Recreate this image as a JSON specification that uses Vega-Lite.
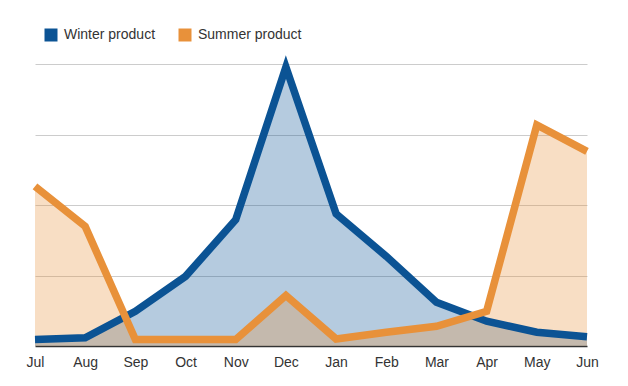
{
  "$schema": "https://vega.github.io/schema/vega-lite/v6.json",
  "width": 552,
  "height": 282,
  "autosize": "none",
  "padding": {"left": 35, "top": 64, "right": 41, "bottom": 40},
  "background": "white",
  "config": {
    "view": {"stroke": null},
    "font": "Liberation Sans"
  },
  "data": {
    "values": [
      {"month": "Jul", "series": "Winter product", "value": 2.3},
      {"month": "Aug", "series": "Winter product", "value": 2.9},
      {"month": "Sep", "series": "Winter product", "value": 12.3},
      {"month": "Oct", "series": "Winter product", "value": 24.7},
      {"month": "Nov", "series": "Winter product", "value": 44.8},
      {"month": "Dec", "series": "Winter product", "value": 98.9},
      {"month": "Jan", "series": "Winter product", "value": 46.9},
      {"month": "Feb", "series": "Winter product", "value": 31.8},
      {"month": "Mar", "series": "Winter product", "value": 15.5},
      {"month": "Apr", "series": "Winter product", "value": 8.8},
      {"month": "May", "series": "Winter product", "value": 4.9},
      {"month": "Jun", "series": "Winter product", "value": 3.3},
      {"month": "Jul", "series": "Summer product", "value": 56.6},
      {"month": "Aug", "series": "Summer product", "value": 42.4},
      {"month": "Sep", "series": "Summer product", "value": 2.3},
      {"month": "Oct", "series": "Summer product", "value": 2.3},
      {"month": "Nov", "series": "Summer product", "value": 2.3},
      {"month": "Dec", "series": "Summer product", "value": 17.9},
      {"month": "Jan", "series": "Summer product", "value": 2.5},
      {"month": "Feb", "series": "Summer product", "value": 4.9},
      {"month": "Mar", "series": "Summer product", "value": 7.0},
      {"month": "Apr", "series": "Summer product", "value": 12.3},
      {"month": "May", "series": "Summer product", "value": 78.4},
      {"month": "Jun", "series": "Summer product", "value": 69.0}
    ]
  },
  "encoding": {
    "x": {
      "field": "month",
      "type": "ordinal",
      "sort": ["Jul","Aug","Sep","Oct","Nov","Dec","Jan","Feb","Mar","Apr","May","Jun"],
      "scale": {"type": "point", "padding": 0},
      "axis": {
        "title": null,
        "labelAngle": 0,
        "ticks": false,
        "domainColor": "#333333",
        "domainWidth": 1.5,
        "labelColor": "#333333",
        "labelFontSize": 14,
        "labelPadding": 9,
        "grid": false
      }
    },
    "y": {
      "field": "value",
      "type": "quantitative",
      "stack": null,
      "scale": {"domain": [0, 100], "nice": false},
      "axis": {
        "title": null,
        "labels": false,
        "ticks": false,
        "domain": false,
        "grid": true,
        "gridColor": "#cccccc",
        "values": [25, 50, 75, 100]
      }
    },
    "color": {
      "field": "series",
      "type": "nominal",
      "scale": {"domain": ["Winter product", "Summer product"], "range": ["#0b5394", "#e8913a"]},
      "legend": {
        "title": null,
        "orient": "none",
        "legendX": 9,
        "legendY": -36,
        "direction": "horizontal",
        "symbolType": "square",
        "symbolSize": 169,
        "symbolOpacity": 1,
        "symbolStrokeWidth": 0,
        "labelFontSize": 14,
        "labelColor": "#333333",
        "labelOffset": 6,
        "columnPadding": 22,
        "encode": {
          "symbols": {"update": {"fill": {"scale": "color", "field": "value"}, "fillOpacity": {"value": 1}, "opacity": {"value": 1}, "strokeWidth": {"value": 0}}}
        }
      }
    }
  },
  "layer": [
    {
      "mark": {"type": "area", "fillOpacity": 0.3, "line": false},
      "encoding": {"order": {"field": "series", "sort": "descending"}}
    },
    {
      "mark": {"type": "line", "strokeWidth": 7.5, "strokeJoin": "miter"}
    }
  ]
}
